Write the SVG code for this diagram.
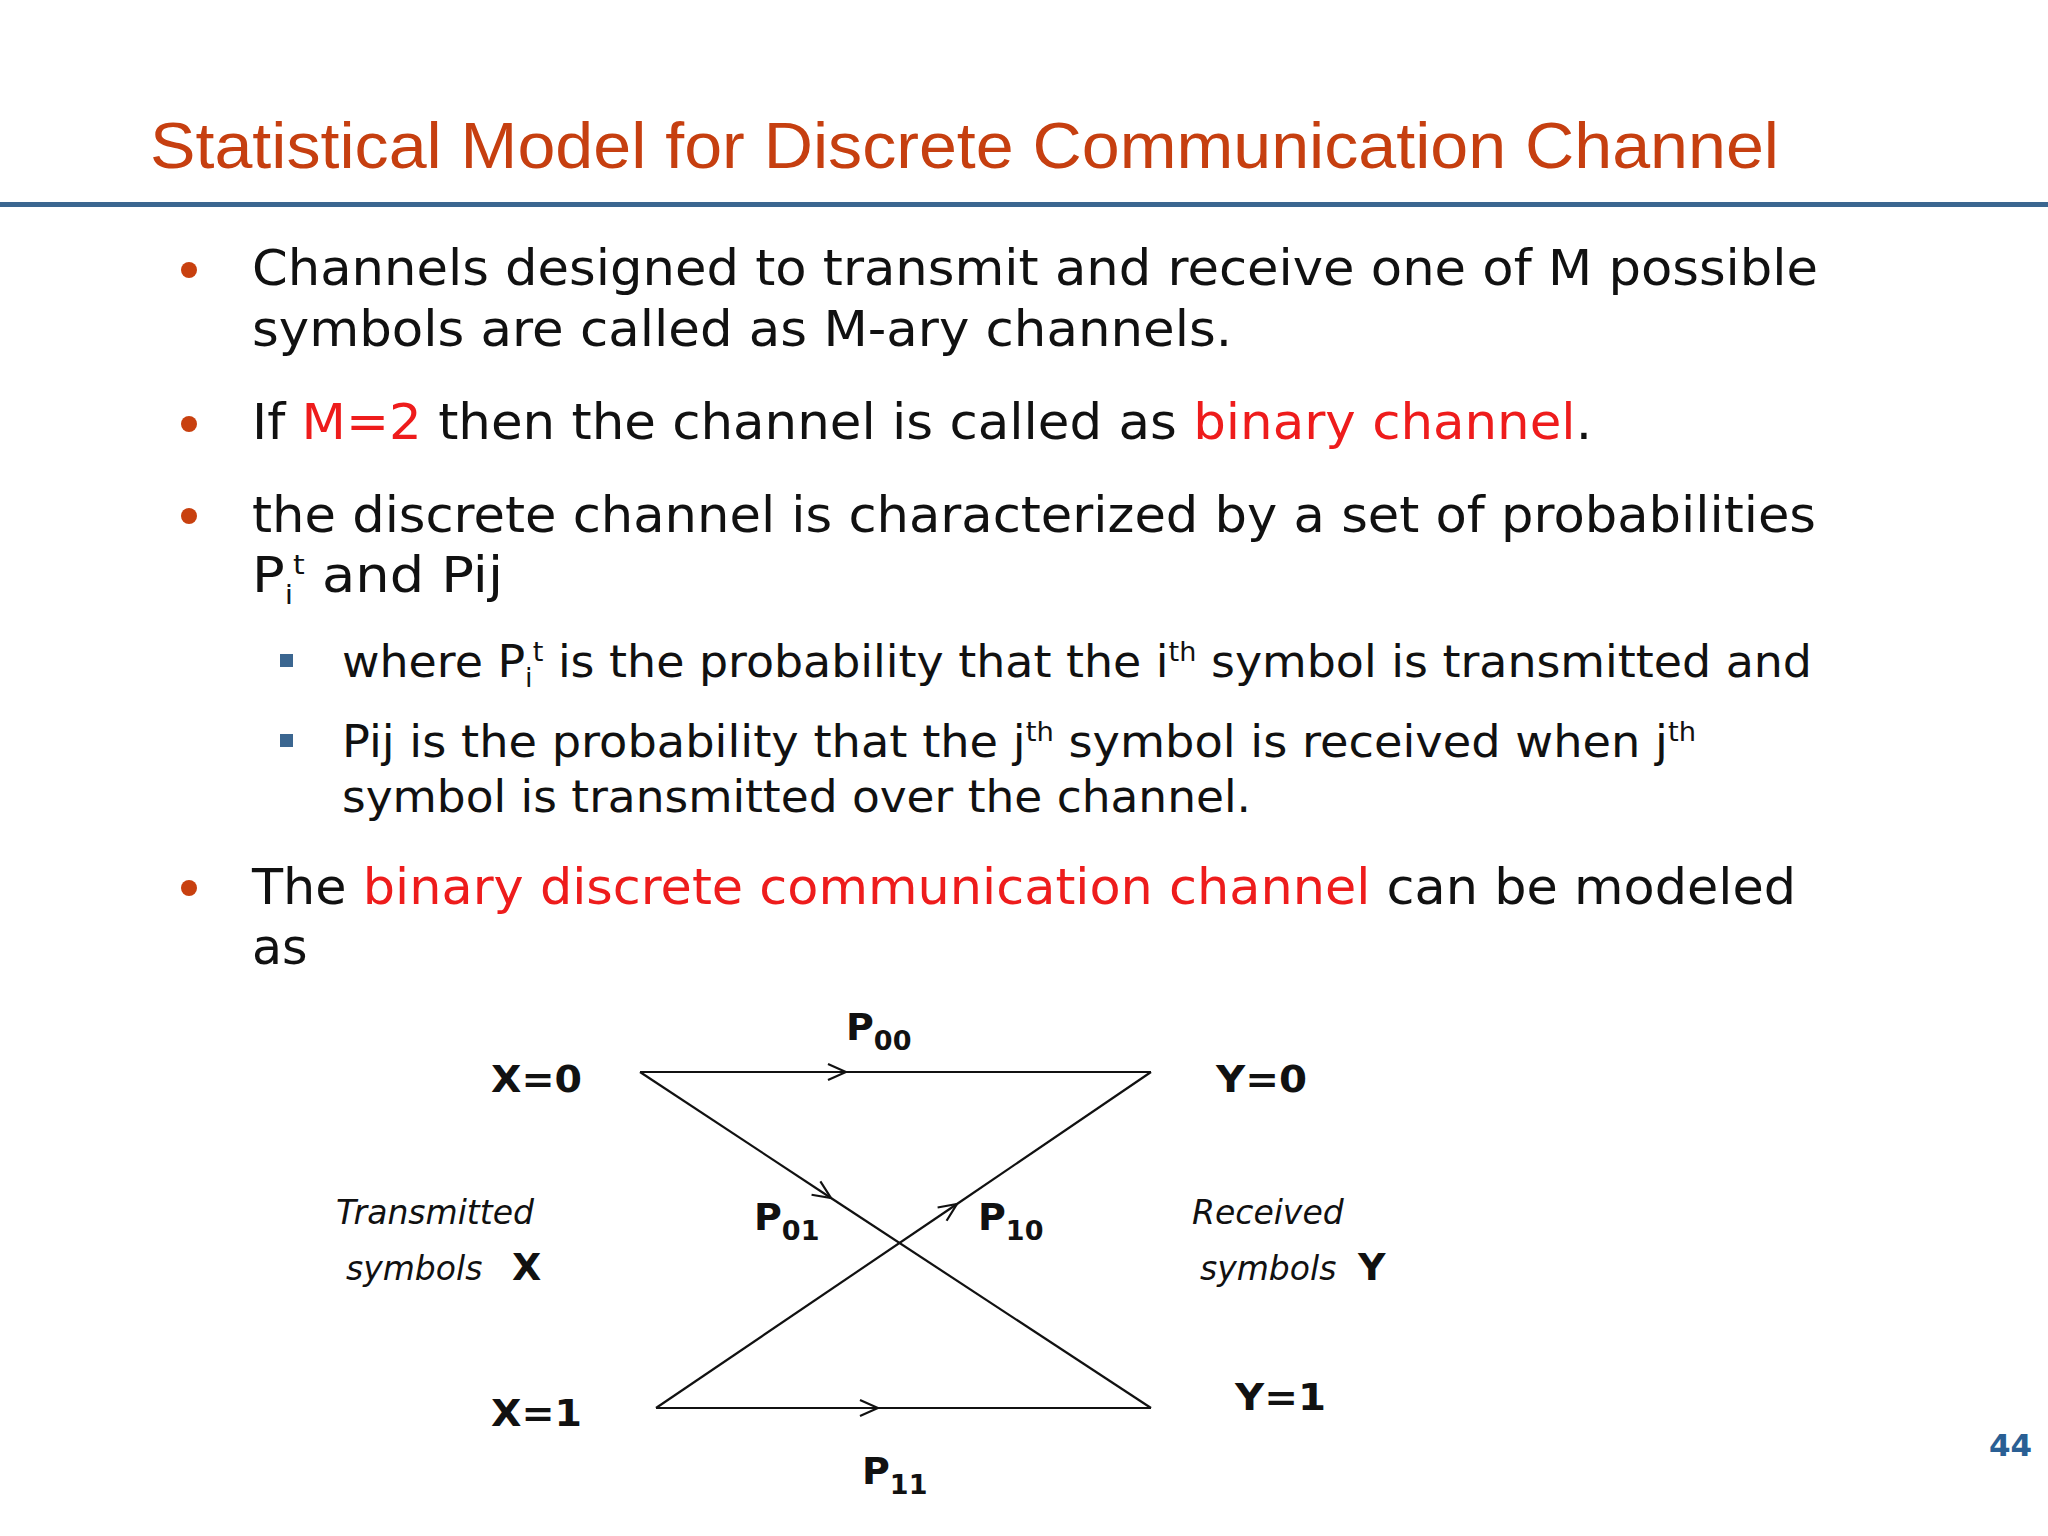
<svg xmlns="http://www.w3.org/2000/svg" width="2048" height="1536" viewBox="0 0 2048 1536">
<style>
.t{font-family:"DejaVu Sans",Verdana,sans-serif;font-size:49px;fill:#111}
.s{font-family:"DejaVu Sans",Verdana,sans-serif;font-size:44px;fill:#111}
.r{fill:#ee1c1c}
.b{font-family:"DejaVu Sans",Verdana,sans-serif;font-weight:bold;font-size:38px;fill:#111}
.sub{font-size:27px}
.i{font-family:"DejaVu Sans",Verdana,sans-serif;font-style:italic;font-size:33px;fill:#111}
.ln{stroke:#111;stroke-width:2.2;fill:none}
</style>
<defs>
<marker id="ch" markerWidth="22" markerHeight="22" refX="20" refY="10" orient="auto" markerUnits="userSpaceOnUse">
<path d="M2,2 L20,10 L2,18" fill="none" stroke="#111" stroke-width="2.2"/>
</marker>
</defs>
<rect width="2048" height="1536" fill="#fff"/>
<text x="150" y="168" font-family="Liberation Sans,Arial,sans-serif" font-size="65" fill="#c63f10" textLength="1629" lengthAdjust="spacingAndGlyphs">Statistical Model for Discrete Communication Channel</text>
<rect x="0" y="202" width="2048" height="5" fill="#3b6690"/>
<g fill="#c8400f"><circle cx="189" cy="270" r="8"/><circle cx="189" cy="424" r="8"/><circle cx="189" cy="516" r="8"/><circle cx="189" cy="888" r="8"/></g>
<g fill="#3b6690"><rect x="280" y="654" width="13" height="13"/><rect x="280" y="734" width="13" height="13"/></g>
<text class="t" x="252" y="285" textLength="1566" lengthAdjust="spacingAndGlyphs">Channels designed to transmit and receive one of M possible</text>
<text class="t" x="252" y="346" textLength="980" lengthAdjust="spacingAndGlyphs">symbols are called as M-ary channels.</text>
<text class="t" x="252" y="439" textLength="1340" lengthAdjust="spacingAndGlyphs">If <tspan class="r">M=2</tspan> then the channel is called as <tspan class="r">binary channel</tspan>.</text>
<text class="t" x="252" y="532" textLength="1564" lengthAdjust="spacingAndGlyphs">the discrete channel is characterized by a set of probabilities</text>
<text class="t" x="252" y="592" textLength="251" lengthAdjust="spacingAndGlyphs">P<tspan class="sub" dy="12">i</tspan><tspan class="sub" dy="-30">t</tspan><tspan dy="18"> and Pij</tspan></text>
<text class="s" x="342" y="677" textLength="1470" lengthAdjust="spacingAndGlyphs">where P<tspan font-size="26" dy="10">i</tspan><tspan font-size="26" dy="-26">t</tspan><tspan dy="16"> is the probability that the i</tspan><tspan font-size="26" dy="-16">th</tspan><tspan dy="16"> symbol is transmitted and</tspan></text>
<text class="s" x="342" y="757" textLength="1354" lengthAdjust="spacingAndGlyphs">Pij is the probability that the j<tspan font-size="26" dy="-16">th</tspan><tspan dy="16"> symbol is received when j</tspan><tspan font-size="26" dy="-16">th</tspan></text>
<text class="s" x="342" y="812" textLength="909" lengthAdjust="spacingAndGlyphs">symbol is transmitted over the channel.</text>
<text class="t" x="252" y="904" textLength="1544" lengthAdjust="spacingAndGlyphs">The <tspan class="r">binary discrete communication channel</tspan> can be modeled</text>
<text class="t" x="252" y="964">as</text>
<g id="connectors">
<path class="ln" d="M640,1072 L846,1072" marker-end="url(#ch)"/><path class="ln" d="M846,1072 L1151,1072"/>
<path class="ln" d="M640,1072 L831,1198" marker-end="url(#ch)"/><path class="ln" d="M831,1198 L1151,1408"/>
<path class="ln" d="M656,1408 L878,1408" marker-end="url(#ch)"/><path class="ln" d="M878,1408 L1151,1408"/>
<path class="ln" d="M656,1408 L957,1204" marker-end="url(#ch)"/><path class="ln" d="M957,1204 L1151,1072"/>
</g>
<g id="x0"><text class="b" x="491" y="1092" textLength="91" lengthAdjust="spacingAndGlyphs">X=0</text></g>
<g id="x1"><text class="b" x="491" y="1426" textLength="91" lengthAdjust="spacingAndGlyphs">X=1</text></g>
<g id="y0"><text class="b" x="1216" y="1092" textLength="91" lengthAdjust="spacingAndGlyphs">Y=0</text></g>
<g id="y1"><text class="b" x="1235" y="1410" textLength="91" lengthAdjust="spacingAndGlyphs">Y=1</text></g>
<g id="p00"><text class="b" x="846" y="1040">P<tspan font-size="27" dy="10">00</tspan></text></g>
<g id="p01"><text class="b" x="754" y="1230">P<tspan font-size="27" dy="10">01</tspan></text></g>
<g id="p10"><text class="b" x="978" y="1230">P<tspan font-size="27" dy="10">10</tspan></text></g>
<g id="p11"><text class="b" x="862" y="1484">P<tspan font-size="27" dy="10">11</tspan></text></g>
<g id="tx"><text class="i" x="336" y="1224">Transmitted</text><text class="i" x="346" y="1280">symbols</text><text class="b" x="512" y="1280" font-size="44">X</text></g>
<g id="rx"><text class="i" x="1192" y="1224">Received</text><text class="i" x="1200" y="1280">symbols</text><text class="b" x="1358" y="1280" font-size="44">Y</text></g>
<text x="1989" y="1456" font-family="DejaVu Sans,Verdana,sans-serif" font-weight="bold" font-size="31" fill="#2a5f94">44</text>
</svg>
